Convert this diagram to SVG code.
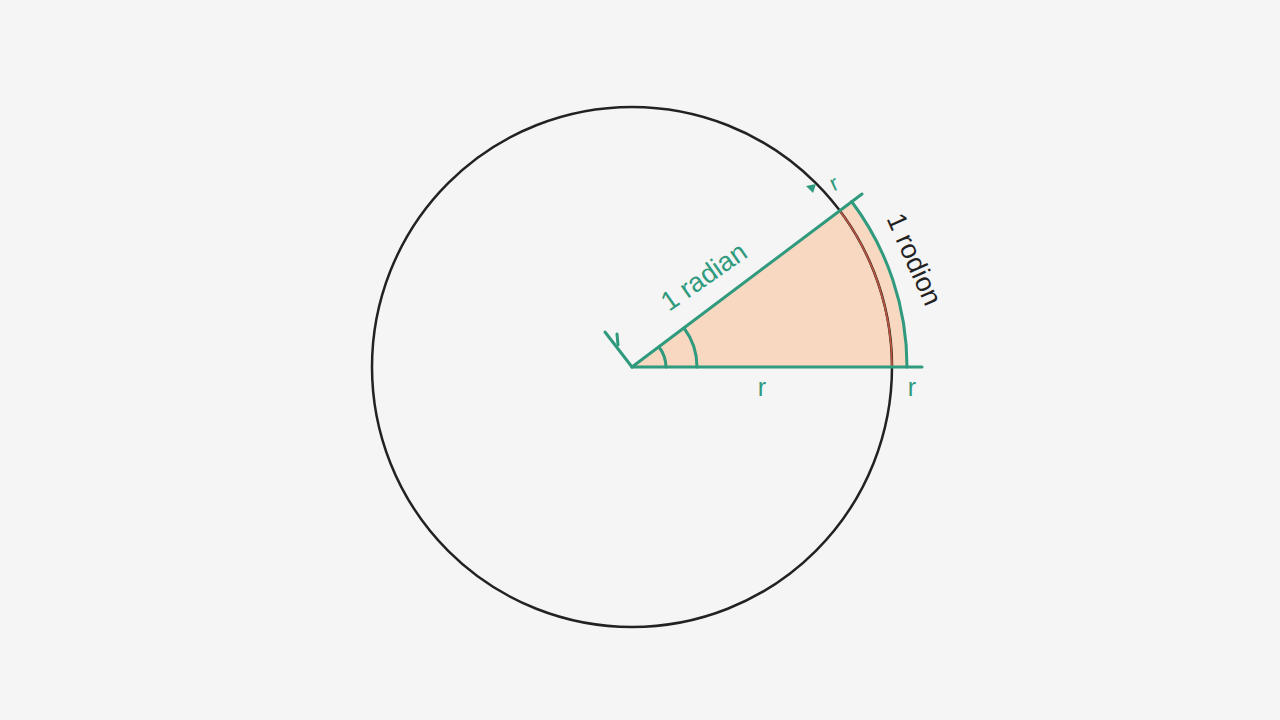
<svg xmlns="http://www.w3.org/2000/svg" width="1280" height="720" viewBox="0 0 1280 720">
<style>
.g{stroke:#2f9a7d;stroke-width:3;fill:none;stroke-linecap:round}
.gt{fill:#2f9a7d;font-family:"Liberation Sans",Arial,sans-serif}
.bt{fill:#222;font-family:"Liberation Sans",Arial,sans-serif}
</style>
<rect width="1280" height="720" fill="#f5f5f5"/>
<g id="wedge">
<path d="M632,367 L851.6,201.5 A275,275 0 0 1 907,367 Z" fill="#f9d8c2"/>
</g>
<g id="circle">
<circle cx="632" cy="367" r="260" fill="none" stroke="#222" stroke-width="2.5"/>
<path d="M839.6,210.5 A260,260 0 0 1 892,367" fill="none" stroke="#b9553f" stroke-width="1.8"/>
</g>
<g id="connectors">
<line class="g" x1="632" y1="367" x2="922" y2="367"/>
<line class="g" x1="632" y1="367" x2="862" y2="194"/>
<path class="g" d="M851.6,201.5 A275,275 0 0 1 907,367"/>
<path class="g" d="M666,367 A34,34 0 0 0 659,347"/>
<path class="g" d="M697,367 A65,65 0 0 0 684,328"/>
<line class="g" x1="632" y1="367" x2="605" y2="332"/>
<line class="g" x1="617" y1="334" x2="618" y2="345"/>
<polygon points="806,186 816,184 813,193" fill="#2f9a7d"/>
</g>
<g id="labels">
<text class="gt" font-size="27" transform="translate(709,284) rotate(-35)" text-anchor="middle">1 radian</text>
<text class="bt" font-size="27" transform="translate(906,263) rotate(66)" text-anchor="middle">1 rodion</text>
<text class="gt" font-size="25" x="762" y="396" text-anchor="middle">r</text>
<text class="gt" font-size="25" x="912" y="396" text-anchor="middle">r</text>
<text class="gt" font-size="22" transform="translate(837,190) rotate(-25)" text-anchor="middle">r</text>
</g>
</svg>
